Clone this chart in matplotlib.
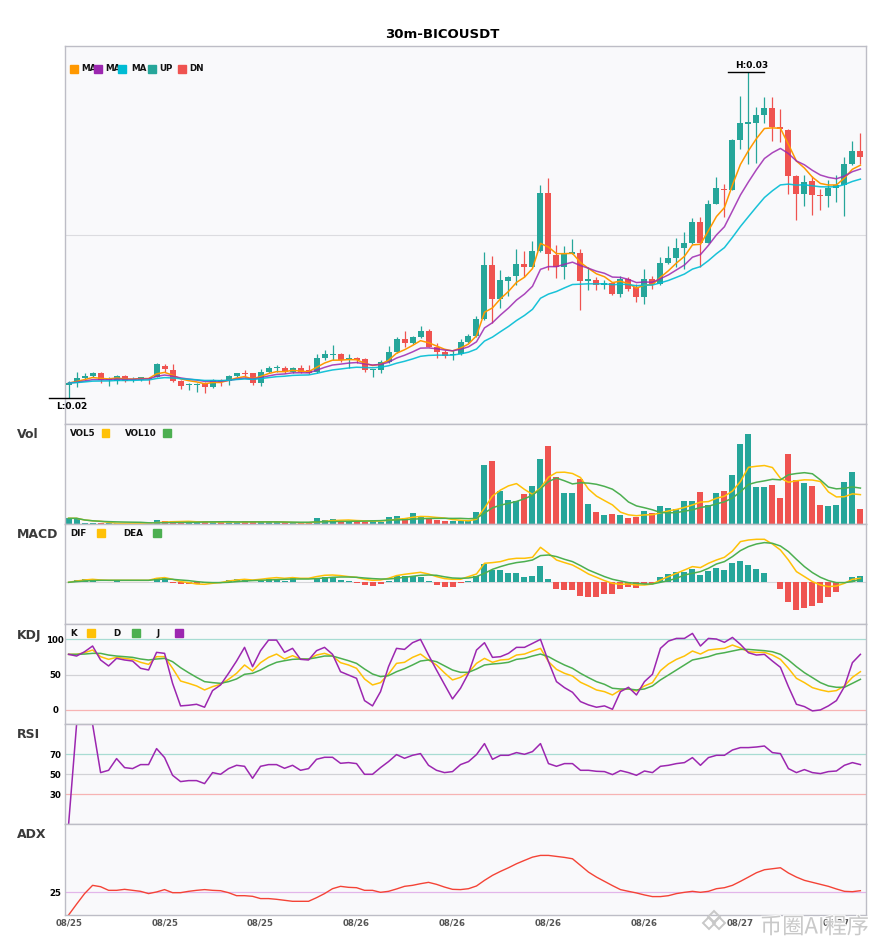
import matplotlib
matplotlib.use('Agg')
import matplotlib.pyplot as plt
from matplotlib.patches import Rectangle
from matplotlib.lines import Line2D
import matplotlib.patheffects as pe
import numpy as np
import pandas as pd

plt.rcParams['font.family'] = ['DejaVu Sans', 'Noto Sans CJK SC']

title = '30m-BICOUSDT'

# 30 minute candles, price in USDT
opens = [0.02039, 0.02044, 0.02061, 0.02067, 0.02074, 0.02053, 0.02052, 0.02066, 0.02055, 0.02054,
         0.02060, 0.02064, 0.02096, 0.02084, 0.02052, 0.02040, 0.02040, 0.02044, 0.02032, 0.02054,
         0.02052, 0.02067, 0.02074, 0.02074, 0.02044, 0.02079, 0.02090, 0.02091, 0.02077, 0.02091,
         0.02084, 0.02079, 0.02119, 0.02130, 0.02131, 0.02118, 0.02121, 0.02116, 0.02083, 0.02084,
         0.02109, 0.02137, 0.02177, 0.02166, 0.02184, 0.02201, 0.02154, 0.02137, 0.02130, 0.02132,
         0.02167, 0.02187, 0.02237, 0.02399, 0.02297, 0.02352, 0.02366, 0.02402, 0.02394, 0.02441,
         0.02616, 0.02431, 0.02394, 0.02434, 0.02437, 0.02353, 0.02354, 0.02341, 0.02347, 0.02312,
         0.02359, 0.02334, 0.02304, 0.02357, 0.02344, 0.02407, 0.02422, 0.02452, 0.02466, 0.02529,
         0.02466, 0.02584, 0.02628, 0.02626, 0.02776, 0.02825, 0.02826, 0.02852, 0.02871, 0.02816,
         0.02807, 0.02666, 0.02612, 0.02651, 0.02608, 0.02607, 0.02631, 0.02641, 0.02702, 0.02741]
highs = [0.02051, 0.02079, 0.02074, 0.02079, 0.02079, 0.02064, 0.02068, 0.02069, 0.02064, 0.02064,
         0.02064, 0.02104, 0.02101, 0.02101, 0.02054, 0.02044, 0.02044, 0.02049, 0.02056, 0.02056,
         0.02069, 0.02076, 0.02084, 0.02076, 0.02086, 0.02096, 0.02099, 0.02096, 0.02092, 0.02099,
         0.02099, 0.02132, 0.02144, 0.02159, 0.02136, 0.02131, 0.02124, 0.02119, 0.02086, 0.02114,
         0.02156, 0.02184, 0.02201, 0.02187, 0.02216, 0.02207, 0.02164, 0.02144, 0.02144, 0.02177,
         0.02191, 0.02247, 0.02439, 0.02426, 0.02384, 0.02366, 0.02447, 0.02442, 0.02471, 0.02639,
         0.02661, 0.02459, 0.02456, 0.02479, 0.02447, 0.02394, 0.02364, 0.02354, 0.02349, 0.02366,
         0.02364, 0.02344, 0.02387, 0.02366, 0.02424, 0.02456, 0.02482, 0.02499, 0.02541, 0.02544,
         0.02594, 0.02664, 0.02644, 0.02780, 0.02909, 0.02979, 0.02876, 0.02904, 0.02904, 0.02869,
         0.02809, 0.02669, 0.02669, 0.02666, 0.02629, 0.02654, 0.02669, 0.02724, 0.02772, 0.02796]
lows = [0.02000, 0.02034, 0.02054, 0.02062, 0.02044, 0.02036, 0.02041, 0.02047, 0.02047, 0.02052,
        0.02042, 0.02063, 0.02079, 0.02047, 0.02027, 0.02024, 0.02019, 0.02014, 0.02029, 0.02037,
        0.02039, 0.02064, 0.02062, 0.02039, 0.02036, 0.02076, 0.02079, 0.02074, 0.02074, 0.02074,
        0.02073, 0.02075, 0.02114, 0.02114, 0.02109, 0.02089, 0.02106, 0.02079, 0.02064, 0.02076,
        0.02104, 0.02136, 0.02154, 0.02161, 0.02179, 0.02152, 0.02121, 0.02119, 0.02114, 0.02129,
        0.02164, 0.02184, 0.02236, 0.02226, 0.02272, 0.02306, 0.02339, 0.02364, 0.02393, 0.02439,
        0.02384, 0.02362, 0.02359, 0.02432, 0.02264, 0.02324, 0.02326, 0.02329, 0.02309, 0.02304,
        0.02322, 0.02289, 0.02284, 0.02329, 0.02339, 0.02402, 0.02394, 0.02389, 0.02464, 0.02394,
        0.02465, 0.02582, 0.02544, 0.02624, 0.02749, 0.02704, 0.02706, 0.02826, 0.02774, 0.02769,
        0.02612, 0.02534, 0.02576, 0.02549, 0.02564, 0.02574, 0.02589, 0.02547, 0.02699, 0.02704]
closes = [0.02045, 0.02059, 0.02067, 0.02074, 0.02054, 0.02054, 0.02066, 0.02052, 0.02056, 0.02062,
          0.02058, 0.02101, 0.02086, 0.02052, 0.02036, 0.02041, 0.02041, 0.02032, 0.02054, 0.02047,
          0.02066, 0.02074, 0.02073, 0.02044, 0.02079, 0.02091, 0.02091, 0.02079, 0.02091, 0.02077,
          0.02074, 0.02119, 0.02131, 0.02131, 0.02114, 0.02119, 0.02114, 0.02084, 0.02084, 0.02109,
          0.02137, 0.02177, 0.02166, 0.02184, 0.02201, 0.02154, 0.02137, 0.02127, 0.02131, 0.02167,
          0.02187, 0.02237, 0.02399, 0.02297, 0.02354, 0.02364, 0.02402, 0.02394, 0.02441, 0.02616,
          0.02432, 0.02394, 0.02434, 0.02437, 0.02352, 0.02354, 0.02341, 0.02347, 0.02312, 0.02359,
          0.02329, 0.02304, 0.02357, 0.02344, 0.02407, 0.02422, 0.02452, 0.02466, 0.02529, 0.02466,
          0.02584, 0.02631, 0.02626, 0.02776, 0.02826, 0.02826, 0.02852, 0.02871, 0.02816, 0.02808,
          0.02666, 0.02612, 0.02649, 0.02609, 0.02607, 0.02631, 0.02641, 0.02702, 0.02741, 0.02724]
volumes = [6.0, 6.0, 1.0, 1.0, 1.0, 1.0, 1.0, 1.0, 1.0, 1.0,
           1.0, 4.3, 3.3, 3.3, 2.0, 2.0, 2.0, 3.3, 2.0, 2.0,
           2.0, 2.0, 3.3, 3.3, 2.0, 2.0, 2.0, 2.0, 1.0, 1.0,
           2.0, 6.0, 4.3, 5.3, 2.7, 3.3, 3.3, 2.7, 4.3, 2.7,
           7.0, 8.3, 6.0, 11.0, 7.0, 6.0, 4.3, 3.3, 3.3, 3.3,
           3.3, 12.0, 59.3, 63.3, 33.3, 24.3, 23.3, 30.3, 38.3, 65.3,
           78.3, 47.0, 31.7, 31.7, 45.3, 20.3, 12.0, 9.3, 10.0, 9.3,
           6.7, 7.7, 13.3, 11.0, 18.3, 16.7, 15.0, 23.3, 23.3, 32.7,
           19.3, 31.7, 33.3, 49.3, 80.3, 90.3, 37.0, 37.0, 39.3, 26.7,
           70.3, 44.3, 41.7, 38.3, 19.3, 18.3, 19.3, 42.7, 52.7, 15.3]

# MACD (arbitrary units)
dif_vals = [0.0, 1.3, 2.3, 3.0, 2.3, 2.0, 2.0, 2.0, 2.0, 2.0,
            2.0, 4.0, 4.7, 3.0, 0.7, -0.3, -1.7, -2.0, -1.0, -0.3,
            1.3, 2.3, 3.0, 2.3, 3.0, 4.0, 4.7, 4.0, 4.7, 4.0,
            4.0, 5.7, 7.0, 7.3, 6.7, 5.7, 5.0, 3.0, 2.0, 2.3,
            4.0, 6.7, 8.0, 9.0, 10.0, 8.3, 5.7, 3.7, 3.0, 3.0,
            5.7, 8.3, 19.0, 19.7, 20.7, 23.0, 24.0, 24.0, 25.0, 35.0,
            29.0, 22.3, 19.7, 17.3, 13.0, 8.3, 5.0, 1.7, -1.0, -2.0,
            -1.7, -2.7, -2.7, -1.7, 2.3, 5.7, 9.0, 12.3, 15.7, 14.7,
            19.0, 22.3, 25.0, 31.3, 40.7, 42.3, 43.0, 43.0, 38.3, 32.3,
            22.3, 10.7, 5.7, 0.7, -2.7, -4.3, -3.7, -1.0, 3.0, 4.0]
dea_vals = [0.0, 0.7, 1.3, 1.7, 2.0, 2.0, 2.0, 2.0, 2.0, 2.0,
            2.0, 2.7, 3.3, 3.0, 2.3, 1.7, 0.7, 0.0, -0.3, -0.3,
            0.0, 0.7, 1.3, 1.7, 2.0, 2.3, 2.7, 3.0, 3.3, 3.3,
            3.3, 3.7, 4.3, 5.0, 5.3, 5.3, 5.0, 4.3, 3.7, 3.3,
            3.3, 4.0, 5.0, 6.0, 7.0, 7.3, 7.0, 5.5, 4.3, 4.0,
            4.3, 5.7, 9.0, 13.0, 15.7, 18.0, 19.7, 20.7, 22.3, 26.7,
            27.3, 25.7, 23.0, 20.7, 16.7, 12.3, 9.0, 5.7, 3.0, 1.3,
            -0.3, -1.0, -1.7, -1.7, 0.0, 1.7, 4.0, 7.3, 9.0, 10.7,
            14.0, 18.3, 20.7, 25.7, 31.7, 35.7, 38.3, 39.7, 39.0, 36.3,
            30.7, 23.0, 15.7, 9.7, 5.0, 1.7, -0.3, -0.3, 0.7, 3.0]
hist_vals = [0.0, 2.3, 3.0, 2.3, 0.3, 0.3, 1.3, 0.3, 0.3, 0.3,
             0.5, 4.0, 4.0, -1.0, -2.0, -2.0, -2.0, -1.0, -1.0, -0.3,
             2.3, 3.3, 3.3, 0.3, 1.0, 3.3, 3.3, 1.3, 4.0, 0.7,
             0.3, 4.0, 5.7, 5.7, 2.3, 1.3, -0.5, -2.7, -3.7, -1.7,
             1.3, 6.7, 6.7, 6.7, 5.7, 1.3, -2.7, -4.3, -4.3, -1.0,
             1.3, 6.7, 18.3, 12.3, 12.3, 9.3, 9.3, 5.3, 6.3, 16.3,
             3.3, -6.7, -7.7, -7.7, -13.7, -14.3, -14.3, -11.7, -11.7, -6.7,
             -4.3, -5.3, -2.0, -1.7, 5.0, 8.3, 10.0, 10.0, 13.3, 7.3,
             11.7, 14.7, 12.3, 19.7, 21.3, 17.3, 13.3, 9.3, 0.0, -6.7,
             -19.7, -27.7, -25.3, -23.7, -20.7, -14.3, -9.7, 0.0, 5.0, 6.3]

k_vals = [78.8, 78.8, 81.1, 84.9, 75.5, 71.7, 74.5, 73.1, 71.7, 67.5,
          64.6, 75.5, 75.5, 59.0, 41.0, 37.7, 34.0, 28.3, 33.0, 36.3,
          43.4, 51.9, 63.7, 55.2, 67.0, 74.5, 79.2, 72.2, 76.9, 72.2,
          71.7, 77.8, 80.2, 76.4, 67.0, 63.7, 59.0, 43.9, 35.4, 38.7,
          50.9, 66.0, 67.5, 74.5, 79.2, 70.8, 63.7, 52.5, 42.5, 46.2,
          52.8, 66.0, 73.1, 67.5, 70.8, 71.7, 77.8, 79.2, 83.5, 87.3,
          68.4, 57.5, 51.9, 48.1, 39.2, 34.0, 28.3, 25.9, 21.2, 28.3,
          29.7, 26.9, 34.0, 38.7, 55.7, 65.1, 71.7, 76.4, 83.5, 79.2,
          84.9, 86.3, 87.3, 92.0, 87.8, 82.5, 81.6, 81.6, 77.8, 71.7,
          59.0, 44.8, 38.7, 31.6, 28.3, 25.9, 27.4, 34.0, 46.2, 54.2]
d_vals = [78.8, 78.8, 79.2, 80.2, 80.2, 77.8, 76.4, 75.5, 74.5, 72.2,
          70.8, 72.2, 73.1, 68.4, 59.9, 52.8, 46.2, 40.1, 38.7, 37.7,
          40.1, 43.9, 50.5, 51.9, 56.6, 62.7, 67.5, 69.8, 71.7, 72.2,
          72.2, 74.1, 76.4, 76.4, 73.1, 69.8, 66.0, 58.0, 50.9, 47.2,
          48.6, 54.2, 58.5, 63.7, 69.3, 70.8, 68.4, 62.5, 56.6, 53.3,
          53.3, 58.0, 63.7, 65.1, 66.0, 67.5, 71.7, 73.1, 76.4, 79.2,
          75.5, 69.3, 63.7, 59.0, 51.9, 45.8, 40.1, 36.3, 30.7, 29.7,
          29.7, 28.3, 29.7, 34.0, 42.5, 49.5, 56.6, 63.7, 70.8, 73.1,
          75.5, 79.2, 81.1, 83.5, 85.8, 85.8, 84.9, 84.0, 82.5, 78.8,
          70.8, 61.3, 52.8, 45.8, 38.7, 34.0, 32.1, 32.1, 37.7, 43.4]
j_vals = [78.8, 76.4, 82.5, 90.6, 70.8, 62.3, 73.1, 70.8, 69.3, 59.0,
          56.6, 81.6, 80.2, 37.7, 5.7, 6.6, 8.0, 3.8, 27.4, 35.4,
          51.9, 69.3, 88.7, 61.3, 84.0, 99.0, 99.0, 81.6, 87.3, 71.7,
          70.8, 84.0, 88.7, 78.8, 54.2, 49.5, 44.8, 13.2, 5.7, 25.9,
          61.3, 87.3, 85.8, 95.3, 100.0, 77.8, 56.6, 36.0, 15.6, 30.7,
          51.9, 84.9, 95.3, 74.5, 75.5, 80.2, 88.7, 88.7, 94.3, 100.0,
          68.4, 40.1, 31.6, 25.0, 11.8, 7.1, 3.8, 5.7, 0.9, 25.9,
          32.1, 21.2, 40.1, 50.5, 87.3, 97.6, 101.4, 101.4, 108.5, 90.6,
          101.4, 100.5, 95.8, 102.8, 92.9, 81.1, 77.8, 78.8, 69.3, 60.4,
          33.0, 8.0, 4.7, -1.4, 0.0, 5.7, 13.2, 33.0, 67.0, 78.8]
rsi_vals = [0.0, 100.0, 100.0, 100.0, 51.7, 54.0, 65.7, 56.7, 55.7, 59.7,
            59.7, 75.7, 66.7, 49.0, 42.7, 43.7, 43.7, 40.7, 51.7, 50.0,
            55.7, 59.0, 58.0, 46.0, 58.0, 59.7, 59.7, 56.0, 59.0, 54.0,
            55.7, 65.0, 67.0, 67.0, 61.0, 61.7, 60.7, 50.0, 50.0, 56.7,
            62.7, 69.7, 66.0, 69.0, 70.7, 59.0, 54.0, 51.7, 52.7, 59.7,
            62.7, 69.7, 80.7, 65.0, 69.0, 69.0, 71.7, 70.0, 72.7, 80.7,
            60.7, 58.0, 60.7, 60.7, 54.0, 54.0, 53.0, 52.7, 49.7, 53.7,
            51.7, 49.0, 53.3, 51.7, 58.0, 59.0, 60.7, 61.7, 66.7, 59.0,
            66.7, 69.0, 69.0, 74.3, 76.7, 76.7, 77.3, 78.3, 71.7, 70.7,
            55.7, 51.7, 54.7, 51.7, 50.7, 52.7, 53.3, 59.0, 61.7, 59.7]
adx_vals = [0.0, 12.0, 23.6, 32.7, 31.2, 27.2, 27.2, 28.3, 27.2, 26.1,
            23.6, 25.4, 28.0, 24.6, 24.6, 26.1, 27.2, 28.0, 27.2, 26.8,
            24.6, 21.3, 21.3, 20.6, 18.1, 18.1, 17.3, 16.2, 15.1, 15.1,
            15.1, 19.1, 23.6, 29.0, 31.6, 30.5, 30.1, 27.2, 27.2, 25.0,
            26.1, 28.7, 31.6, 32.7, 34.5, 36.0, 33.8, 30.8, 28.3, 28.0,
            29.0, 32.0, 38.2, 43.7, 48.1, 52.1, 56.5, 60.2, 63.8, 65.7,
            65.7, 64.6, 63.5, 62.0, 54.7, 47.3, 41.8, 37.1, 32.4, 28.0,
            26.1, 24.3, 22.1, 20.3, 20.3, 21.3, 23.6, 25.0, 26.1, 25.0,
            26.1, 29.0, 30.1, 32.7, 37.1, 41.8, 46.6, 49.9, 51.0, 52.1,
            46.3, 41.8, 38.2, 36.0, 33.8, 31.6, 28.7, 26.1, 25.7, 26.8]

tick_pos = [0, 12, 24, 36, 48, 60, 72, 84, 96]
tick_labels = ['08/25', '08/25', '08/25', '08/26', '08/26', '08/26', '08/26', '08/27', '08/27']

UP = '#26a69a'
DN = '#ef5350'
BG = '#f9f9fb'
EDGE = '#bdbdc6'

df = pd.DataFrame({'open': opens, 'high': highs, 'low': lows, 'close': closes, 'vol': volumes})
x = np.arange(len(df))
ma5 = df['close'].ewm(span=5, adjust=False).mean()
ma10 = df['close'].ewm(span=10, adjust=False).mean()
ma20 = df['close'].ewm(span=20, adjust=False).mean()
vol5 = df['vol'].rolling(5, min_periods=1).mean()
vol10 = df['vol'].rolling(10, min_periods=1).mean()
hist = np.array(hist_vals)

up = (df['close'] >= df['open']).values
colors = np.where(up, UP, DN)

W, H = 885, 950
fig = plt.figure(figsize=(W / 100, H / 100), dpi=100)
gs = fig.add_gridspec(6, 1, height_ratios=[378.6, 100, 100, 100, 100, 90.7], hspace=0,
                      left=65 / W, right=866 / W, top=1 - 45.7 / H, bottom=1 - 915 / H)
axes = [fig.add_subplot(gs[0])]
for r in range(1, 6):
    axes.append(fig.add_subplot(gs[r], sharex=axes[0]))
ax, axv, axm, axk, axr, axa = axes

for a in axes:
    a.set_facecolor(BG)
    for s in a.spines.values():
        s.set_color(EDGE)
        s.set_linewidth(1)
    a.tick_params(length=0, labelsize=6.2)
    a.tick_params(axis='x', labelbottom=False)
a.set_xlim(-0.45, 99.7)

# price panel
ax.axhline(0.02489, color='#dcdce0', lw=0.8, zorder=0)
ax.vlines(x, df['low'], df['high'], colors=colors, lw=0.9, zorder=2)
body_bottom = np.minimum(df['open'], df['close'])
body_h = np.maximum((df['close'] - df['open']).abs(), 0.000035)
ax.bar(x, body_h, 0.75, bottom=body_bottom, color=colors, zorder=3)
ax.plot(x, ma5, color='#ff9800', lw=1.1, zorder=4)
ax.plot(x, ma10, color='#9c27b0', lw=1.1, alpha=0.85, zorder=4)
ax.plot(x, ma20, color='#00bcd4', lw=1.1, alpha=0.9, zorder=4)
ax.set_ylim(0.01921, 0.03059)
ax.set_yticks([])

ih = int(df['high'].idxmax())
hv = df['high'].max()
ax.plot([ih - 2.5, ih + 1.9], [hv, hv], color='black', lw=1, clip_on=False, zorder=5)
ax.annotate(f'H:{hv:.2f}', (ih + 0.4, hv), xytext=(0, 2), textcoords='offset points',
            ha='center', va='bottom', fontsize=6.5, fontweight='bold')
il = int(df['low'].idxmin())
lv = df['low'].min()
ax.plot([il - 2.5, il + 1.9], [lv, lv], color='black', lw=1, clip_on=False, zorder=5)
ax.annotate(f'L:{lv:.2f}', (il + 0.4, lv), xytext=(0, -3), textcoords='offset points',
            ha='center', va='top', fontsize=6.5, fontweight='bold', annotation_clip=False)

# volume
axv.bar(x, df['vol'], 0.75, color=colors)
axv.plot(x, vol5, color='#ffc107', lw=1.1)
axv.plot(x, vol10, color='#4caf50', lw=1.1)
axv.set_ylim(0, 100)
axv.set_yticks([])

# macd
axm.axhline(0, color='#d6d6da', lw=0.8, zorder=0)
axm.bar(x, hist, 0.75, color=np.where(hist >= 0, UP, DN))
axm.plot(x, dif_vals, color='#ffc107', lw=1.1)
axm.plot(x, dea_vals, color='#4caf50', lw=1.1)
axm.set_ylim(-42, 58)
axm.set_yticks([])

# kdj
axk.axhline(100, color='#a8dcd3', lw=0.9, zorder=0)
axk.axhline(50, color='#d2d2d6', lw=0.9, zorder=0)
axk.axhline(0, color='#f7b3b3', lw=0.9, zorder=0)
axk.plot(x, k_vals, color='#ffc107', lw=1.1)
axk.plot(x, d_vals, color='#4caf50', lw=1.1)
axk.plot(x, j_vals, color='#9c27b0', lw=1.1)
axk.set_ylim(-20.4, 121.4)
axk.set_yticks([0, 50, 100])

# rsi
axr.axhline(70, color='#a8dcd3', lw=0.9, zorder=0)
axr.axhline(50, color='#d2d2d6', lw=0.9, zorder=0)
axr.axhline(30, color='#f7b3b3', lw=0.9, zorder=0)
axr.plot(x, rsi_vals, color='#9c27b0', lw=1.1)
axr.set_ylim(0, 100)
axr.set_yticks([30, 50, 70])

# adx
axa.axhline(25, color='#e2b6ea', lw=0.9, zorder=0)
axa.plot(x, adx_vals, color='#f44336', lw=1.0)
axa.set_ylim(0, 100)
axa.set_yticks([25])

for a in (axk, axr, axa):
    a.tick_params(axis='y', pad=7)
    for lab in a.get_yticklabels():
        lab.set_fontweight('bold')
        lab.set_horizontalalignment('center')

axa.set_xticks(tick_pos)
axa.set_xticklabels(tick_labels, fontsize=6.2, fontweight='bold', color='#555555')
axa.tick_params(axis='x', labelbottom=True, pad=2.5)


def fx(px):
    return px / W


def fy(py):
    return 1 - py / H


def label(px, py, txt, size=6.3):
    fig.text(fx(px), fy(py), txt, ha='left', va='center', fontsize=size, fontweight='bold',
             color='#111111', zorder=6)


def swatch(px, py, color):
    fig.add_artist(Rectangle((fx(px), fy(py + 3.8)), 7.6 / W, 7.6 / H,
                             transform=fig.transFigure, color=color, zorder=7))


fig.text(0.5, fy(34), title, ha='center', va='center', fontsize=9.5, fontweight='bold')

# legends
for tx, t in [(81, 'MA'), (105.3, 'MA'), (131, 'MA'), (159, 'UP'), (189, 'DN')]:
    label(tx, 68.8, t)
for sx, c in [(70, '#ff9800'), (94.3, '#9c27b0'), (118, '#00bcd4'), (148, UP), (178, DN)]:
    swatch(sx, 68.8, c)

label(70, 433.2, 'VOL5')
swatch(101.7, 433.2, '#ffc107')
label(125, 433.2, 'VOL10')
swatch(163, 433.2, '#4caf50')

label(70, 533.2, 'DIF')
swatch(97, 533.2, '#ffc107')
label(123.3, 533.2, 'DEA')
swatch(153, 533.2, '#4caf50')

label(70, 633.2, 'K')
swatch(87, 633.2, '#ffc107')
label(113, 633.2, 'D')
swatch(132, 633.2, '#4caf50')
label(156.7, 633.2, 'J')
swatch(175, 633.2, '#9c27b0')

for name, py in [('Vol', 435), ('MACD', 534.3), ('KDJ', 635), ('RSI', 735), ('ADX', 835)]:
    fig.text(fx(17), fy(py), name, ha='left', va='center', fontsize=9, fontweight='bold',
             color='#3a3a3a')

# watermark (logo drawn as markers, name as text)
for mx, my in [(709, 923), (719, 923), (714, 917)]:
    fig.add_artist(Line2D([fx(mx)], [fy(my)], marker='D', markersize=6.5, markerfacecolor='none',
                          markeredgecolor='#c8c8c8', markeredgewidth=1.4,
                          transform=fig.transFigure, zorder=8))
fig.text(fx(760), fy(927), '币圈AI程序', ha='left', va='center', fontsize=16,
         family=['Noto Sans CJK SC', 'DejaVu Sans'], color='#c4c4c4', alpha=0.9,
         path_effects=[pe.withStroke(linewidth=1.5, foreground='white')], zorder=8)

plt.savefig('out.png', dpi=100)
